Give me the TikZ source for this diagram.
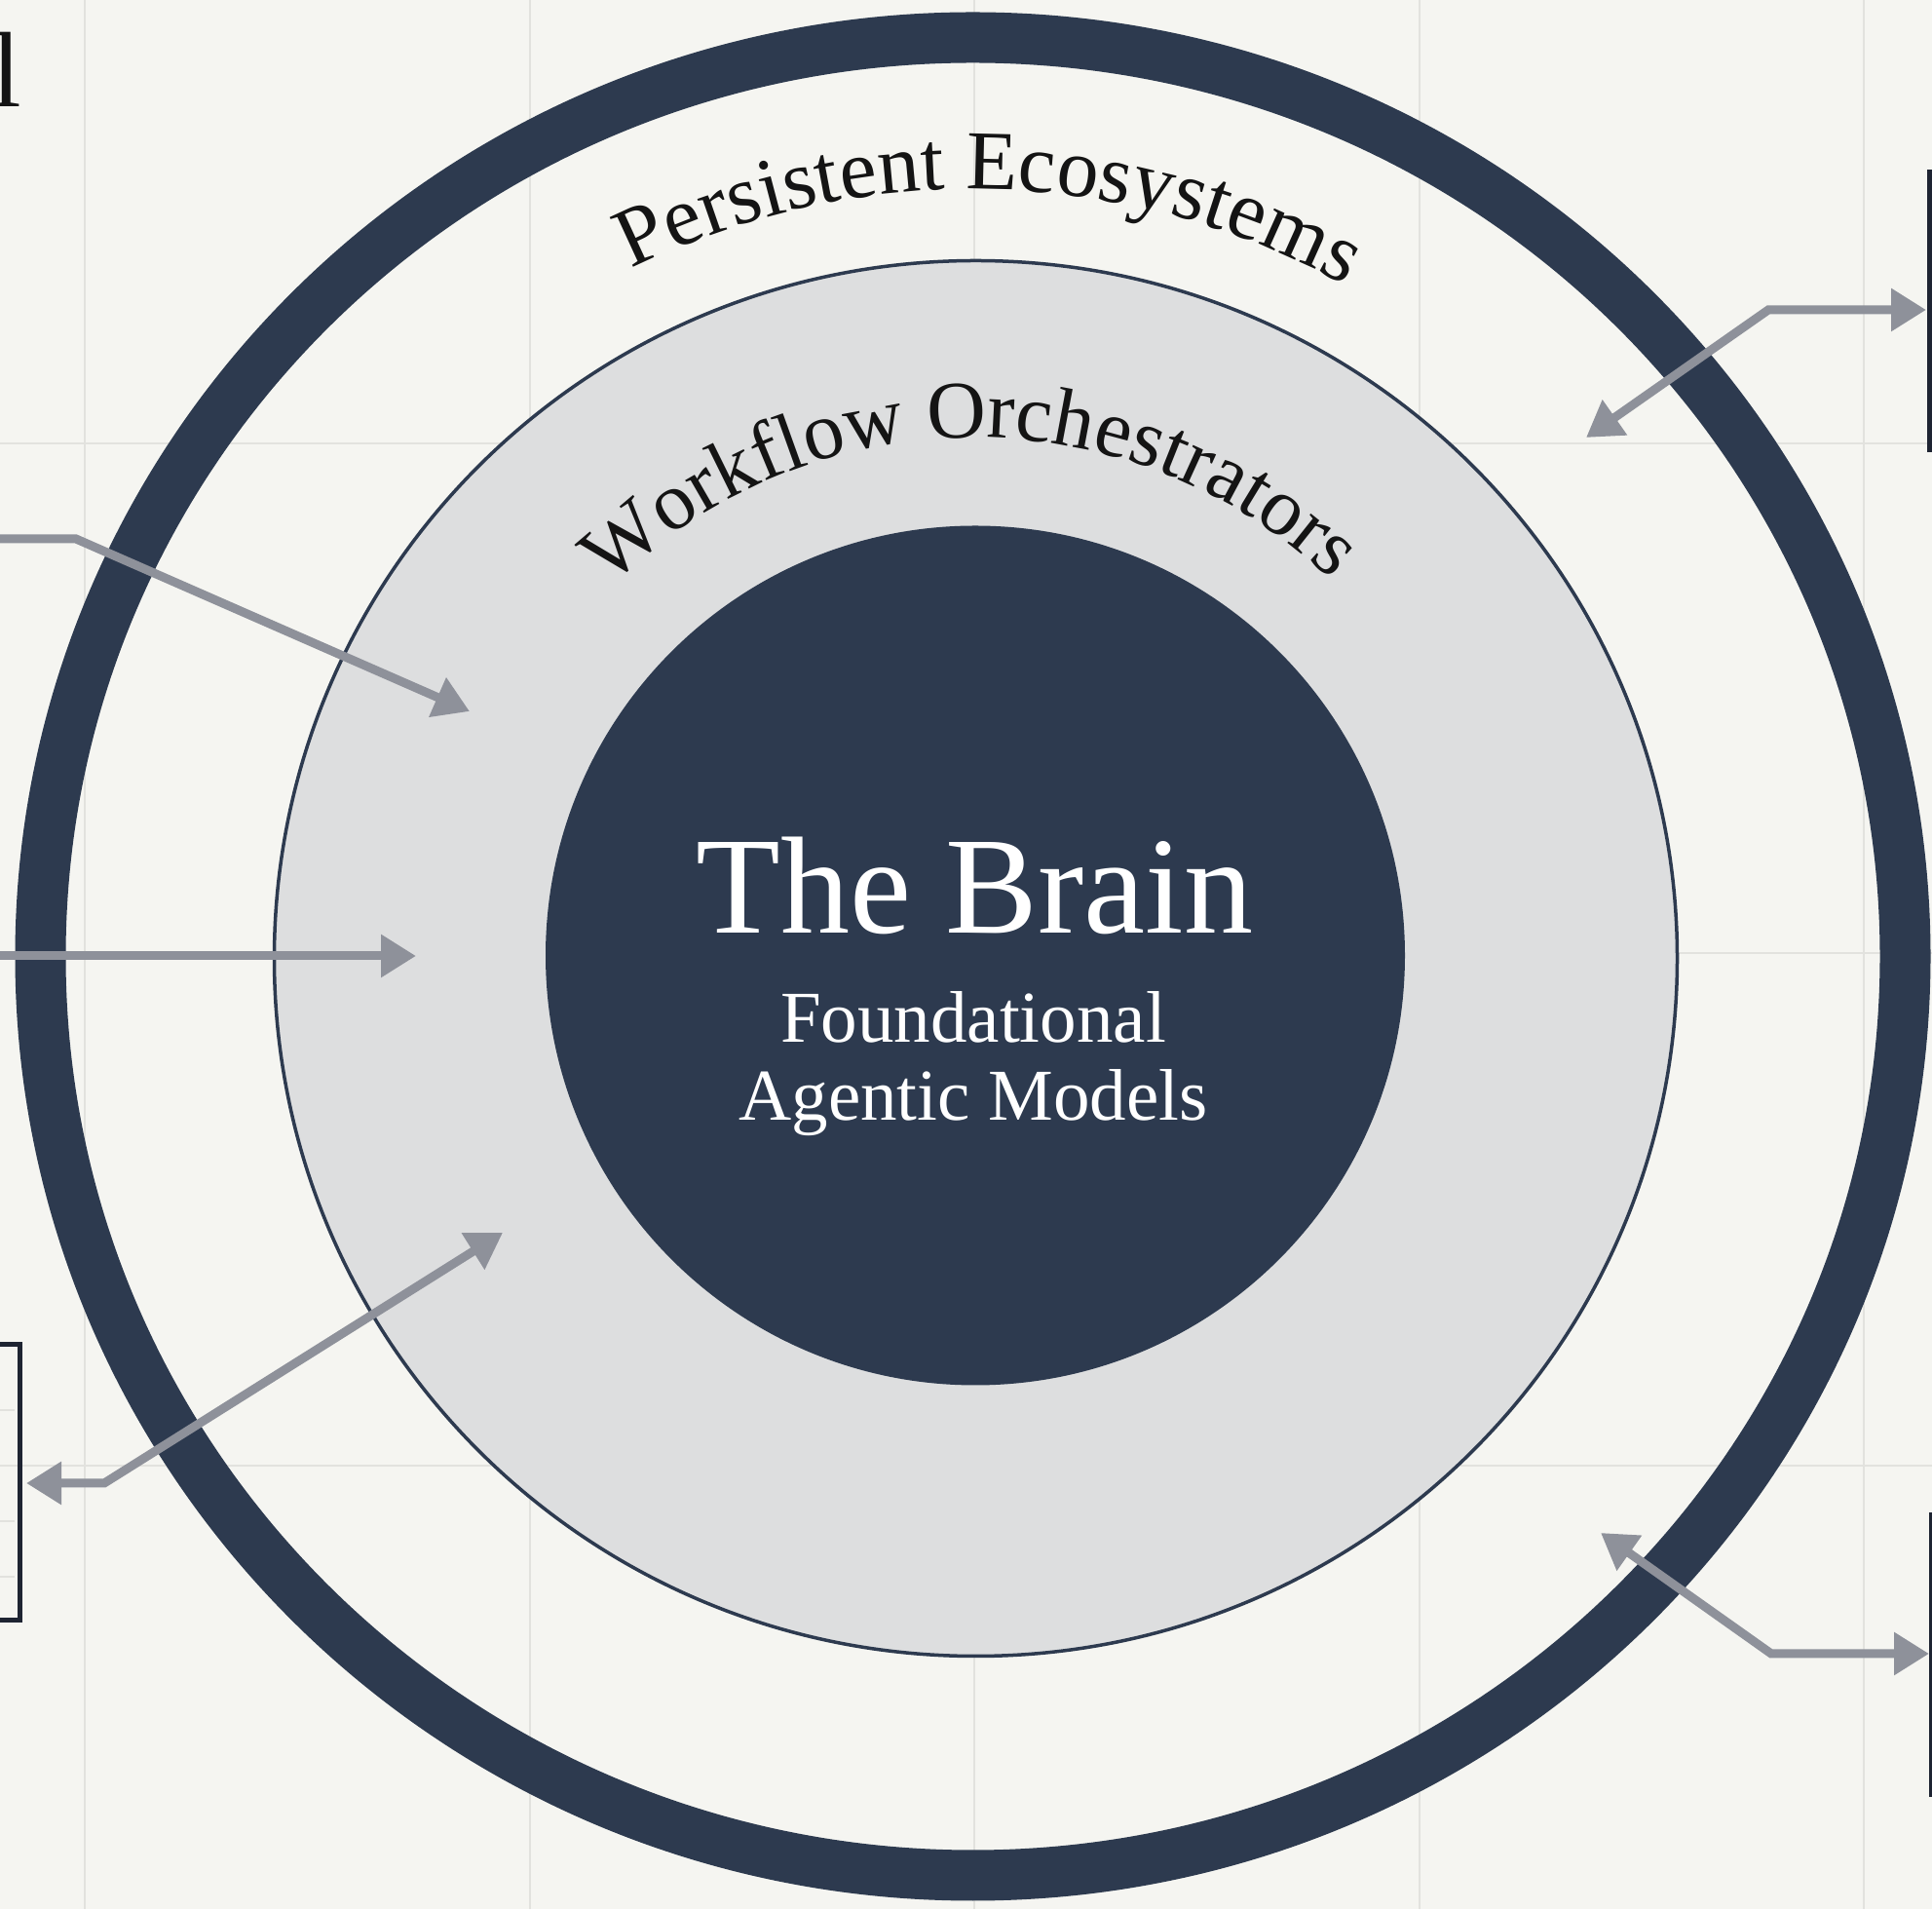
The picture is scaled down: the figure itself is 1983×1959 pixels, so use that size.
\documentclass[tikz,border=0pt]{standalone}
\usepackage{fontspec}
\setmainfont{Liberation Serif}
\usetikzlibrary{arrows.meta,decorations.text}
\definecolor{bgc}{HTML}{F5F5F1}
\definecolor{navy}{HTML}{2D3A4F}
\definecolor{discgrey}{HTML}{DDDEDF}
\definecolor{arrowgrey}{HTML}{8E919A}
\definecolor{gridc}{HTML}{E2E2DE}
\definecolor{inkc}{HTML}{141414}
\definecolor{boxc}{HTML}{1E2432}
\begin{document}
\begin{tikzpicture}[x=1pt,y=1pt,
  gridline/.style={gridc, line width=2.5},
  conn/.style={arrowgrey, line width=9, line join=miter},
  headtip/.style={-{Triangle[length=36pt,width=42pt]}},
  bothtip/.style={{Triangle[length=36pt,width=42pt]}-{Triangle[length=36pt,width=42pt]}},
  sidebox/.style={boxc, line width=5},
  whitetext/.style={text=white, inner sep=0, anchor=base}]
\useasboundingbox (0,0) rectangle (1983,1959);
\clip (0,0) rectangle (1983,1959);
\fill[bgc] (0,0) rectangle (1983,1959);
% grid
\foreach \gx in {87,544,1000,1457,1913} \draw[gridline] (\gx,0) -- (\gx,1959);
\foreach \gy in {1504,981,455} \draw[gridline] (0,\gy) -- (1983,\gy);
% rings and discs
\draw[navy, line width=52] (998.5,977.5) ellipse [x radius=957, y radius=943];
\filldraw[fill=discgrey, draw=navy, line width=3.5] (1001.5,975.5) ellipse [x radius=720, y radius=716];
\fill[navy] (1001,978.5) circle [radius=441];
% centre texts
\node[whitetext, font=\fontsize{142}{142}\selectfont] (brain) at (1000.5,1001) {The Brain};
\node[whitetext, font=\fontsize{75}{75}\selectfont] (found) at (999,889) {Foundational};
\node[whitetext, font=\fontsize{75}{75}\selectfont] (agentic) at (999,809) {Agentic Models};
% curved texts
\path[decorate, decoration={text along path, text align=center, text color=inkc,
  text={|\fontsize{86}{86}\selectfont|Persistent Ecosystems}}]
  ({998.5+787*cos(128.7)},{978+787*sin(128.7)}) arc[start angle=128.7, end angle=48.7, radius=787];
\path[decorate, decoration={text along path, text align=center, text color=inkc,
  text={|\fontsize{84}{84}\selectfont|Workflow Orchestrators}}]
  ({1000+532*cos(140.5)},{978+532*sin(140.5)}) arc[start angle=140.5, end angle=40.5, radius=532];
% side boxes (partly outside the picture)
\draw[sidebox] (-40,296) rectangle (20.5,579);
\foreach \ly in {512,398,341} \draw[gridc, line width=2] (0,\ly) -- (15,\ly);
\draw[sidebox] (1980.5,1497) rectangle (2040,1782);
\draw[sidebox] (1982,117) rectangle (2040,404);
% cut-off word
\node[anchor=base east, inner sep=0, text=inkc, font=\fontsize{110}{110}\selectfont] (cutword) at (22,1849) {l};
% connector coordinates
\coordinate (a1s) at (-10,1406);
\coordinate (a1b) at (78,1406);
\coordinate (a1e) at (482,1229);
\coordinate (a2s) at (-10,978);
\coordinate (a2e) at (427,978);
\coordinate (a3s) at (27,437);
\coordinate (a3b) at (107,437);
\coordinate (a3e) at (516,694);
\coordinate (a4s) at (1628,1510);
\coordinate (a4b) at (1815,1641);
\coordinate (a4e) at (1977,1641);
\coordinate (a5s) at (1643,386);
\coordinate (a5b) at (1818,262);
\coordinate (a5e) at (1980,262);
% connectors
\draw[conn, headtip] (a1s) -- (a1b) -- (a1e);
\draw[conn, headtip] (a2s) -- (a2e);
\draw[conn, bothtip] (a3s) -- (a3b) -- (a3e);
\draw[conn, bothtip] (a4s) -- (a4b) -- (a4e);
\draw[conn, bothtip] (a5s) -- (a5b) -- (a5e);
\end{tikzpicture}
\end{document}
